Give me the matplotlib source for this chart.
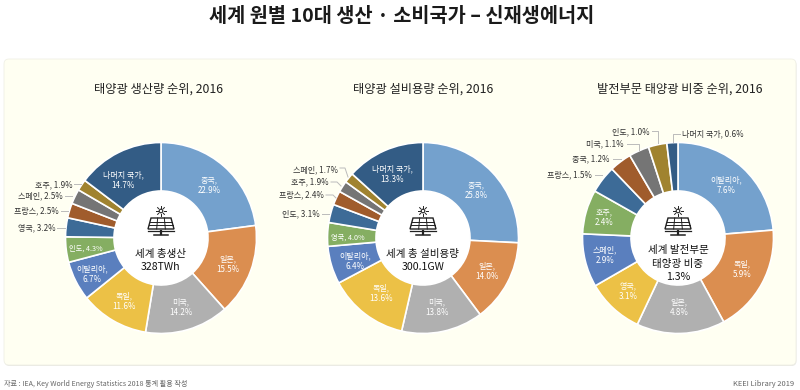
import matplotlib
matplotlib.use("Agg")
import matplotlib.pyplot as plt
from matplotlib.patches import Circle, FancyBboxPatch, Polygon
import numpy as np

plt.rcParams['font.family'] = ['Noto Sans CJK KR', 'DejaVu Sans']

W, H = 800, 390

# data
countries_gen = ['중국', '일본', '미국', '독일', '이탈리아', '인도', '영국', '프랑스', '스페인', '호주', '나머지 국가']
values_gen = [22.9, 15.5, 14.2, 11.6, 6.7, 4.3, 3.2, 2.5, 2.5, 1.9, 14.7]

countries_cap = ['중국', '일본', '미국', '독일', '이탈리아', '영국', '인도', '프랑스', '호주', '스페인', '나머지 국가']
values_cap = [25.8, 14.0, 13.8, 13.6, 6.4, 4.0, 3.1, 2.4, 1.9, 1.7, 13.3]

countries_share = ['이탈리아', '독일', '일본', '영국', '스페인', '호주', '프랑스', '중국', '미국', '인도', '나머지 국가']
values_share = [7.6, 5.9, 4.8, 3.1, 2.9, 2.4, 1.5, 1.2, 1.1, 1.0, 0.6]

titles = ['태양광 생산량 순위, 2016', '태양광 설비용량 순위, 2016', '발전부문 태양광 비중 순위, 2016']

colors = ['#74A1CD', '#DB8E50', '#B0B0B0', '#ECC146', '#5A7FBE', '#85AE62',
          '#3D6B97', '#A05C2C', '#757575', '#A0832F', '#335C85']

# layout, in reference pixels (y down)
R = 95.5
HOLE = 47
centers = [(161, 238), (423, 238), (678, 238)]
title_x = [159, 423, 680]

# inside labels: country index -> label centre
inside_gen = {0: (209, 185), 1: (228, 264), 2: (181, 307), 3: (124, 301), 4: (92, 274), 10: (123, 180)}
inside_cap = {0: (476, 190), 1: (487, 271), 2: (437, 307), 3: (381, 293), 4: (355, 261), 10: (392, 174)}
inside_share = {0: (726, 185), 1: (742, 269), 2: (679, 307), 3: (628, 291), 4: (605, 255), 5: (604, 217)}
# one-line labels inside a wedge
oneline_gen = {5: (86, 248)}
oneline_cap = {5: (348, 237)}

# outside labels: index -> (text right edge, y, leader points)
outside_gen = {
    6: (56, 228, [(57, 228), (65, 228)]),
    7: (59, 211, [(61, 211), (68, 211)]),
    8: (63, 196, [(65, 196), (72, 196)]),
    9: (73, 185, [(74, 184), (81, 184)]),
}
outside_cap = {
    6: (320, 214, [(322, 214), (329, 214)]),
    7: (324, 195, [(326, 195), (333, 195), (336, 198)]),
    8: (329, 182, [(331, 182), (337, 182), (341, 186)]),
    9: (338, 170, [(340, 168), (345, 168), (348, 177)]),
}
outside_share = {
    6: (592, 175, [(595, 175), (602, 175)]),
    7: (610, 159, [(613, 159), (621, 159)]),
    8: (624, 144, [(627, 144), (639, 144), (639, 150)]),
    9: (650, 132, [(652, 131), (658, 131), (658, 143)]),
}

center_text = [
    [('세계 총생산', 254), ('328TWh', 266)],
    [('세계 총 설비용량', 253), ('300.1GW', 267)],
    [('세계 발전부문', 249), ('태양광 비중', 263), ('1.3%', 276)],
]


def Y(py):
    return H - py


def solar_icon(ax, cx, bot):
    # small panel + sun drawn above the centre text
    c = '#222222'
    z = 4
    top = bot - 11
    sx, sy = cx, bot - 18
    ax.add_patch(Circle((sx, Y(sy)), 1.8, fc='none', ec=c, lw=0.8, zorder=z))
    for a in np.arange(0, 360, 45):
        ca, sa = np.cos(np.radians(a)), np.sin(np.radians(a))
        ax.plot([sx + 3.2 * ca, sx + 4.8 * ca], [Y(sy) + 3.2 * sa, Y(sy) + 4.8 * sa], color=c, lw=0.7, zorder=z)
    ax.add_patch(Polygon([(cx - 10, Y(top)), (cx + 10, Y(top)), (cx + 13, Y(bot)), (cx - 13, Y(bot))],
                         closed=True, fc='white', ec=c, lw=1.0, zorder=z))
    for f in [1 / 3, 2 / 3]:
        yy = top + (bot - top) * f
        half = 10 + 3 * f
        ax.plot([cx - half, cx + half], [Y(yy), Y(yy)], color=c, lw=0.7, zorder=z)
    for off in [-1 / 3, 1 / 3]:
        ax.plot([cx + 10 * off, cx + 13 * off], [Y(top), Y(bot)], color=c, lw=0.7, zorder=z)
    ax.plot([cx - 13, cx + 13], [Y(bot + 1.5), Y(bot + 1.5)], color=c, lw=0.9, zorder=z)
    ax.plot([cx, cx], [Y(bot + 1.5), Y(bot + 5)], color=c, lw=1.6, zorder=z)
    ax.plot([cx - 7, cx + 7], [Y(bot + 5.5), Y(bot + 5.5)], color=c, lw=1.1, zorder=z)


fig = plt.figure(figsize=(W / 100, H / 100), dpi=100, facecolor='white')
ax = fig.add_axes([0, 0, 1, 1])

# panel and its soft shadow
ax.add_patch(FancyBboxPatch((4.5, Y(366)), 792, 306, boxstyle='round,pad=0,rounding_size=5',
                            fc='#E8E8E4', ec='none', zorder=0))
ax.add_patch(FancyBboxPatch((4, Y(365)), 792, 306, boxstyle='round,pad=0,rounding_size=5',
                            fc='#FFFFF2', ec='#F0F0E6', lw=0.6, zorder=0.5))

ax.text(402, Y(16), '세계 원별 10대 생산 · 소비국가 – 신재생에너지', fontsize=14.2, fontweight='bold',
        ha='center', va='center', color='#1A1A1A')

series = [values_gen, values_cap, values_share]
names = [countries_gen, countries_cap, countries_share]
insides = [inside_gen, inside_cap, inside_share]
onelines = [oneline_gen, oneline_cap, {}]
outsides = [outside_gen, outside_cap, outside_share]

for i in range(3):
    cx, cy = centers[i]
    ax.pie(series[i], colors=colors, center=(cx, Y(cy)), radius=R, startangle=90, counterclock=False,
           wedgeprops=dict(width=R - HOLE, edgecolor='white', linewidth=1.2), frame=True)
    ax.add_patch(Circle((cx, Y(cy)), HOLE, fc='white', ec='none', zorder=3))
    ax.text(title_x[i], Y(89), titles[i], fontsize=8.8, ha='center', va='center', color='#222222')
    solar_icon(ax, cx, 229)
    for txt, py in center_text[i]:
        ax.text(cx, Y(py + 0.5), txt, fontsize=7.6, ha='center', va='center', color='#111111', zorder=5)

    for k, (lx, ly) in insides[i].items():
        ax.text(lx, Y(ly + 0.5), f'{names[i][k]},\n{series[i][k]:.1f}%', fontsize=5.8, color='white',
                ha='center', va='center', linespacing=1.25, zorder=5)
    for k, (lx, ly) in onelines[i].items():
        ax.text(lx, Y(ly + 0.5), f'{names[i][k]}, {series[i][k]:.1f}%', fontsize=5.2, color='white',
                ha='center', va='center', zorder=5)
    for k, (lx, ly, pts) in outsides[i].items():
        ax.text(lx, Y(ly), f'{names[i][k]}, {series[i][k]:.1f}%', fontsize=5.8, color='#333333',
                ha='right', va='center', zorder=5)
        ax.plot([p[0] for p in pts], [Y(p[1]) for p in pts], color='#BBBBBB', lw=0.7, zorder=2)

# top small wedge of the right chart is labelled from the other side
ax.text(682, Y(134), f'{countries_share[10]}, {values_share[10]:.1f}%', fontsize=5.8, color='#333333',
        ha='left', va='center', zorder=5)
ax.plot([680, 673, 673], [Y(134), Y(134), Y(142)], color='#BBBBBB', lw=0.7, zorder=2)

ax.text(4, Y(384), '자료 : IEA, Key World Energy Statistics 2018 통계 활용 작성', fontsize=5.1,
        ha='left', va='center', color='#666666')
ax.text(794, Y(384), 'KEEI Library 2019', fontsize=5.4, ha='right', va='center', color='#666666')

ax.set_xlim(0, W)
ax.set_ylim(0, H)
ax.set_aspect('auto')
ax.axis('off')

fig.savefig('out.png', dpi=100, facecolor='white')
